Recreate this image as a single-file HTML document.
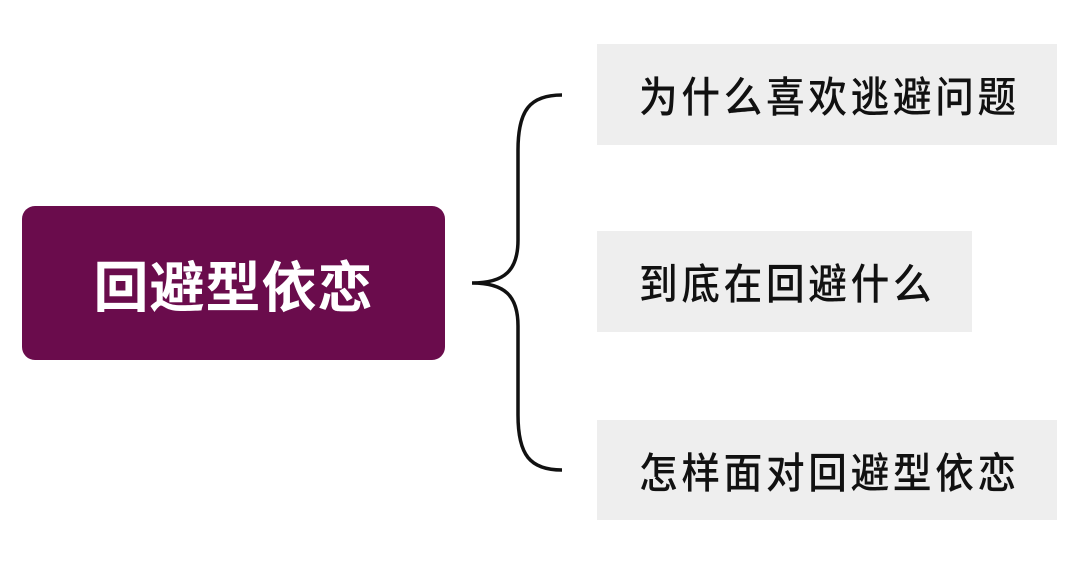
<!DOCTYPE html>
<html><head><meta charset="utf-8"><style>
body{margin:0;width:1080px;height:573px;background:#fff;position:relative;overflow:hidden;font-family:"Liberation Sans","Noto Sans CJK SC",sans-serif;}
.main{position:absolute;left:22px;top:206px;width:423px;height:154px;background:#6a0c4c;border-radius:13px;color:#fff;font-size:55px;font-weight:bold;display:flex;align-items:center;justify-content:center;letter-spacing:1px;}
.b{position:absolute;left:597px;background:#eeeeee;color:#111;font-size:42px;font-weight:500;display:flex;align-items:center;padding-left:42px;box-sizing:border-box;letter-spacing:4px;}
.b span{display:inline-block;transform:scaleX(0.92);transform-origin:left center;white-space:nowrap;}
</style></head><body>
<div class="main">回避型依恋</div>
<svg width="1080" height="573" style="position:absolute;left:0;top:0">
<path d="M562 95 C530 95 518 110 518 150 L518 240 C518 270 505 283 472 283 C505 283 518 296 518 326 L518 415 C518 455 530 470 562 470" fill="none" stroke="#111" stroke-width="3.5"/>
</svg>
<div class="b" style="top:44px;width:460px;height:101px"><span>为什么喜欢逃避问题</span></div>
<div class="b" style="top:231px;width:375px;height:101px"><span>到底在回避什么</span></div>
<div class="b" style="top:420px;width:460px;height:100px"><span>怎样面对回避型依恋</span></div>
</body></html>
